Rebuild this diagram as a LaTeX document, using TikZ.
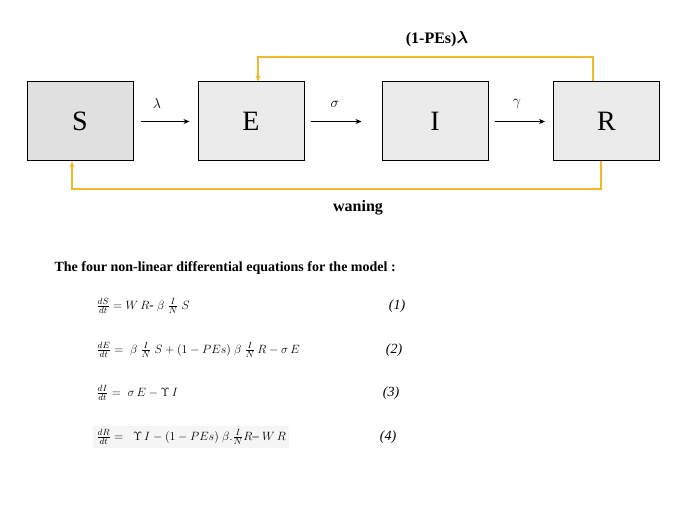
\documentclass[tikz,border=0pt]{standalone}
\usepackage{amsmath,bm}
\usepackage{fontspec}
\setmainfont{Liberation Serif}
\usetikzlibrary{arrows.meta}
\definecolor{ylw}{HTML}{F2B92C}
\newcommand{\fr}[2]{\genfrac{}{}{0.4pt}{}{\scriptstyle #1}{\scriptstyle #2}}
\begin{document}
\begin{tikzpicture}[x=1pt,y=-1pt,
  box/.style={draw=black,line width=1pt,fill=black!8,minimum width=106pt,minimum height=79pt,inner sep=0pt,font=\fontsize{28}{28}\selectfont},
  flow/.style={-{Stealth[length=6pt,width=5pt]},line width=0.8pt},
  yflow/.style={-{Stealth[length=6pt,width=5pt]},draw=ylw,line width=1.3pt},
  lab/.style={font=\fontsize{15}{15}\selectfont},
  eq/.style={anchor=west,font=\fontsize{13}{13}\selectfont\itshape},
  num/.style={font=\fontsize{14}{14}\selectfont\itshape}]
\useasboundingbox (0,0) rectangle (700,521);
\node[box,fill=black!12] (S) at (80,121.5) {S};
\node[box] (E) at (251,121.5) {E};
\node[box] (I) at (435,121.5) {I};
\node[box] (R) at (606.5,121.5) {R};
\draw[flow] ([xshift=7pt]S.east) -- ([xshift=-8pt]E.west);
\draw[flow] ([xshift=6pt]E.east) -- ([xshift=-20pt]I.west);
\draw[flow] ([xshift=6pt]I.east) -- ([xshift=-8pt]R.west);
\node[lab] (l1) at (157,104) {$\lambda$};
\node[lab] (l2) at (335,104) {$\sigma$};
\node[lab] (l3) at (517,104) {$\gamma$};
\draw[yflow] ([xshift=-13.5pt]R.north) |- (258,57) -- ([xshift=7pt]E.north);
\draw[yflow] ([xshift=-5.5pt]R.south) |- (72,189) -- ([xshift=-8pt]S.south);
\node[font=\bfseries\fontsize{16}{16}\selectfont] (t1) at (437,39) {(1-PEs)$\bm{\lambda}$};
\node[font=\bfseries\fontsize{16}{16}\selectfont] (t2) at (358,208) {waning};
\node[anchor=west,font=\bfseries\fontsize{14}{14}\selectfont] (title) at (51,268) {The four non-linear differential equations for the model :};
\node[eq] (e1) at (93,306) {$\fr{dS}{dt} = W\,R\text{-}\ \beta\ \fr{I}{N}\ S$};
\node[eq] (e2) at (93,350) {$\fr{dE}{dt} = \ \beta\ \fr{I}{N}\ S + (1-PEs)\ \beta\ \fr{I}{N}\,R-\sigma\,E$};
\node[eq] (e3) at (93,393) {$\fr{dI}{dt} = \ \sigma\,E - \Upsilon\,I$};
\node[eq,fill=black!4] (e4) at (93,437) {$\fr{dR}{dt} = \ \ \Upsilon\,I-(1-PEs)\ \beta.\fr{I}{N}R\text{--}\ W\,R$};
\node[num] (n1) at (397,306) {(1)};
\node[num] (n2) at (394,350) {(2)};
\node[num] (n3) at (391,393) {(3)};
\node[num] (n4) at (388,437) {(4)};
\end{tikzpicture}
\end{document}
